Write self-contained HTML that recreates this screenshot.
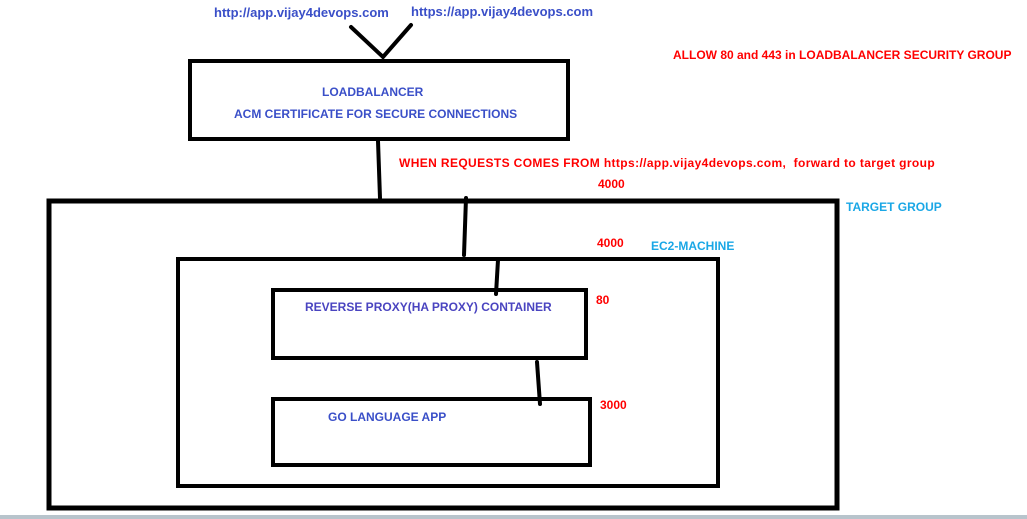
<!DOCTYPE html>
<html><head><style>
body{margin:0;width:1027px;height:519px;background:#fff;position:relative;overflow:hidden;font-family:"Liberation Sans",Arial,sans-serif;font-weight:bold}
.t{position:absolute;white-space:nowrap;font-size:12px}
.b{color:#3a4fc8}.r{color:#f00}.c{color:#1aa7e6}
</style></head><body>
<svg width="1027" height="519" style="position:absolute;left:0;top:0">
<g fill="none" stroke="#000">
<rect x="190" y="61" width="378" height="78" stroke-width="4"/>
<rect x="49" y="201" width="788" height="307" stroke-width="5"/>
<rect x="178" y="259" width="540" height="227" stroke-width="4"/>
<rect x="273" y="290" width="313" height="68" stroke-width="4"/>
<rect x="273" y="399" width="317" height="66" stroke-width="4"/>
<g stroke-width="4" stroke-linecap="round">
<path d="M351 27 L383 57 L411 25"/>
<path d="M378 141 L380 198"/>
<path d="M466 198 L464 255"/>
<path d="M498 260 L496 294"/>
<path d="M537 362 L540 404"/>
</g></g>
<rect x="0" y="515" width="1027" height="4" fill="#b8c4cc"/>
</svg>
<div class="t b" style="left:214px;top:5px;font-size:13px">http://app.vijay4devops.com</div>
<div class="t b" style="left:411px;top:4px;font-size:13px">https://app.vijay4devops.com</div>
<div class="t r" style="left:673px;top:48px">ALLOW 80 and 443 in LOADBALANCER SECURITY GROUP</div>
<div class="t b" style="left:322px;top:85px">LOADBALANCER</div>
<div class="t b" style="left:234px;top:107px">ACM CERTIFICATE FOR SECURE CONNECTIONS</div>
<div class="t r" style="left:399px;top:156px;letter-spacing:0.38px">WHEN REQUESTS COMES FROM https://app.vijay4devops.com,&nbsp; forward to target group</div>
<div class="t r" style="left:598px;top:177px">4000</div>
<div class="t c" style="left:846px;top:200px">TARGET GROUP</div>
<div class="t r" style="left:597px;top:236px">4000</div>
<div class="t c" style="left:651px;top:239px">EC2-MACHINE</div>
<div class="t b" style="left:305px;top:300px;color:#4a44c0">REVERSE PROXY(HA PROXY) CONTAINER</div>
<div class="t r" style="left:596px;top:293px">80</div>
<div class="t r" style="left:600px;top:398px">3000</div>
<div class="t b" style="left:328px;top:410px">GO LANGUAGE APP</div>
</body></html>
